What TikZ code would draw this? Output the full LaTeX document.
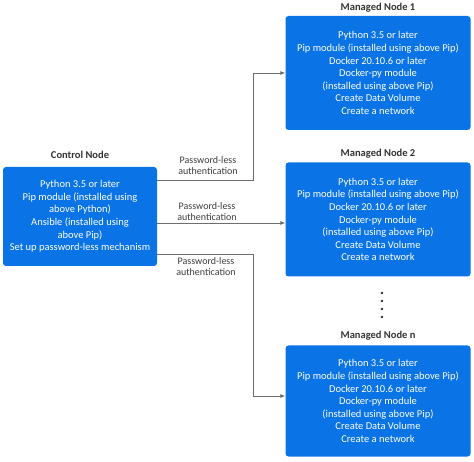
\documentclass[tikz,border=0pt]{standalone}
\usepackage{fontspec}
\setmainfont{Carlito}
\usetikzlibrary{arrows.meta}
\definecolor{nodeblue}{RGB}{10,115,230}
\definecolor{linegray}{RGB}{110,110,110}
\definecolor{labelgray}{RGB}{60,60,60}

\begin{document}
\begin{tikzpicture}[x=1pt,y=-1pt,
	box/.style={fill=nodeblue,rounded corners=3pt,text=white,align=center,
		font=\fontsize{10.5}{12.6}\selectfont,inner sep=0pt},
	title/.style={font=\fontsize{10.5}{12.6}\selectfont\bfseries,text=black!80},
	auth/.style={font=\fontsize{10}{11}\selectfont,text=labelgray,align=center},
	link/.style={draw=linegray,line width=0.8pt,-{Latex[length=5pt,width=4pt]}}]
	\useasboundingbox (0,0) rectangle (474,462);
	% control node
	\node[box,minimum width=154pt,minimum height=99pt] (ctrl) at (80,216.5)
		{Python 3.5 or later\\Pip module (installed using\\above Python)\\Ansible (installed using\\above Pip)\\Set up password-less mechanism};
	\node[title] (ctrlt) at (80,155) {Control Node};
	% managed nodes
	\node[box,minimum width=185pt,minimum height=114pt] (mn1) at (378,73)
		{Python 3.5 or later\\Pip module (installed using above Pip)\\Docker 20.10.6 or later\\Docker-py module\\(installed using above Pip)\\Create Data Volume\\Create a network};
	\node[title] (mn1t) at (378,8) {Managed Node 1};
	\node[box,minimum width=185pt,minimum height=114pt] (mn2) at (378,219.5)
		{Python 3.5 or later\\Pip module (installed using above Pip)\\Docker 20.10.6 or later\\Docker-py module\\(installed using above Pip)\\Create Data Volume\\Create a network};
	\node[title] (mn2t) at (378,154) {Managed Node 2};
	\node[box,minimum width=185pt,minimum height=111pt] (mnn) at (378,401)
		{Python 3.5 or later\\Pip module (installed using above Pip)\\Docker 20.10.6 or later\\Docker-py module\\(installed using above Pip)\\Create Data Volume\\Create a network};
	\node[title] (mnnt) at (378,336) {Managed Node n};
	% dots
	\foreach \y in {293,301,309,317}
		\filldraw[black!80] (382,\y) circle (1pt);
	% connectors
	\coordinate (up) at (253,180);
	\coordinate (down) at (253,254);
	\draw[link] (ctrl.east |- up) -- (up) |- (mn1.west);
	\draw[link] (ctrl.east |- 0,223) -- (mn2.west |- 0,223);
	\draw[link] (ctrl.east |- down) -- (down) |- (mnn.west |- 0,396);
	% labels
	\node[auth] (auth1) at (208,165.5) {Password-less\\authentication};
	\node[auth] (auth2) at (207,212) {Password-less\\authentication};
	\node[auth] (auth3) at (206,267) {Password-less\\authentication};
\end{tikzpicture}
\end{document}
